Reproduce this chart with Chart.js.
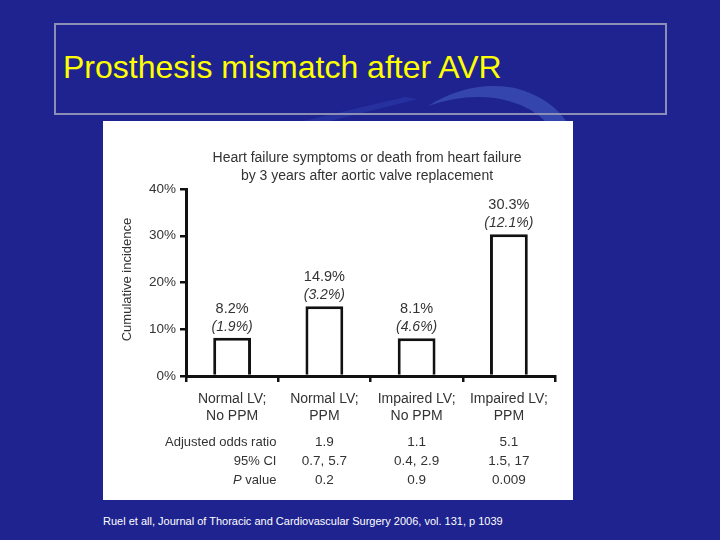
<!DOCTYPE html>
<html>
<head>
<meta charset="utf-8">
<script src="https://cdn.jsdelivr.net/npm/chart.js@4.4.1/dist/chart.umd.min.js"></script>
<style>
  html,body{margin:0;padding:0;}
  body{width:720px;height:540px;background:#1e238f;position:relative;overflow:hidden;font-family:"Liberation Sans",Arial,sans-serif;}
  #deco{position:absolute;left:0;top:0;}
  #titlebox{position:absolute;left:54px;top:23px;width:609px;height:88px;border:2px solid #8b8fb5;}
  #title{position:absolute;left:63px;top:45px;font-size:32px;color:#ffff00;line-height:44px;white-space:nowrap;}
  #panel{position:absolute;left:103px;top:121px;width:470px;height:379px;background:#fff;}
  #cite{position:absolute;left:103px;top:515px;font-size:11px;color:#fff;white-space:nowrap;}
</style>
</head>
<body>
<svg id="deco" width="720" height="540">
  <path d="M 290 124 L 405 97 L 418 99 L 318 124 Z" fill="#2833a3" opacity="0.8"/>
  <path d="M 428 106 Q 470 80 515 88 Q 552 98 568 124 L 548 124 Q 530 104 495 98 Q 462 94 428 106 Z" fill="#3545ae"/>
</svg>
<div id="titlebox"></div>
<div id="title">Prosthesis mismatch after AVR</div>
<div id="panel"><canvas id="c" width="470" height="379"></canvas></div>
<div id="cite">Ruel et all, Journal of Thoracic and Cardiovascular Surgery 2006, vol. 131, p 1039</div>
<script>
const categories = [["Normal LV;","No PPM"],["Normal LV;","PPM"],["Impaired LV;","No PPM"],["Impaired LV;","PPM"]];
const incidence = [8.2, 14.9, 8.1, 30.3];
const incidenceInner = [1.9, 3.2, 4.6, 12.1];
const yTicks = [0, 10, 20, 30, 40];
const titleLines = ["Heart failure symptoms or death from heart failure","by 3 years after aortic valve replacement"];
const yTitle = "Cumulative incidence";
const oddsRatio = ["", "1.9", "1.1", "5.1"];
const ci95 = ["", "0.7, 5.7", "0.4, 2.9", "1.5, 17"];
const pValue = ["", "0.2", "0.9", "0.009"];
const rowLabels = ["Adjusted odds ratio", "95% CI", "P value"];

const FF = '"Liberation Sans", Arial, sans-serif';
const TXT = '#333333';

const annot = {
  id: 'annot',
  afterDraw(chart){
    const {ctx, chartArea:a, scales:{x}} = chart;
    ctx.save();
    ctx.fillStyle = TXT;
    ctx.textAlign = 'center';
    ctx.textBaseline = 'middle';
    ctx.font = '14px ' + FF;
    titleLines.forEach((t,i)=> ctx.fillText(t, a.left + 181, a.top - 31 + i*18));
    ctx.save();
    ctx.translate(a.left - 59, (a.top + a.bottom)/2 - 3);
    ctx.rotate(-Math.PI/2);
    ctx.font = '13px ' + FF;
    ctx.fillText(yTitle, 0, 0);
    ctx.restore();
    const meta = chart.getDatasetMeta(0);
    meta.data.forEach((bar,i)=>{
      ctx.font = '14.5px ' + FF;
      ctx.fillText(incidence[i].toFixed(1) + '%', bar.x, bar.y - 29);
      ctx.font = 'italic 14px ' + FF;
      ctx.fillText('(' + incidenceInner[i].toFixed(1) + '%)', bar.x, bar.y - 11);
    });
    const rows = [oddsRatio, ci95, pValue];
    ctx.font = '13px ' + FF;
    const lx = x.getPixelForValue(0) + x.getPixelForValue(1) - x.getPixelForValue(0) - 48;
    rows.forEach((vals, r)=>{
      const yy = a.bottom + 66 + r*19;
      ctx.textAlign = 'right';
      if (r === 2) {
        const rest = ' value';
        ctx.fillText(rest, lx, yy);
        const w = ctx.measureText(rest).width;
        ctx.font = 'italic 13px ' + FF;
        ctx.fillText('P', lx - w, yy);
        ctx.font = '13px ' + FF;
      } else {
        ctx.fillText(rowLabels[r], lx, yy);
      }
      ctx.textAlign = 'center';
      ctx.font = '13.5px ' + FF;
      vals.forEach((v,i)=>{ if (v) ctx.fillText(v, x.getPixelForValue(i), yy); });
      ctx.font = '13px ' + FF;
    });
    ctx.restore();
  }
};

new Chart(document.getElementById('c'), {
  type: 'bar',
  data: {
    labels: categories,
    datasets: [{
      data: incidence,
      backgroundColor: '#ffffff',
      borderColor: '#111111',
      borderWidth: 3,
      borderSkipped: 'bottom',
      barPercentage: 0.41,
      categoryPercentage: 1.0
    }]
  },
  options: {
    responsive: false,
    animation: false,
    layout: { padding: { left: 0, right: 18, top: 68, bottom: 0 } },
    plugins: { legend: { display: false }, tooltip: { enabled: false }, title: { display: false } },
    scales: {
      x: {
        offset: true,
        grid: { display: true, offset: true, drawOnChartArea: false, drawTicks: true, tickLength: 6, lineWidth: 2.5, color: '#111111' },
        border: { display: true, width: 3, color: '#111111' },
        ticks: { color: TXT, font: { family: FF, size: 14 }, padding: 9, maxRotation: 0, autoSkip: false },
        afterFit(s){ s.height = 124; }
      },
      y: {
        min: 0, max: 40,
        afterBuildTicks(s){ s.ticks = yTicks.map(v=>({value:v})); },
        grid: { display: true, drawOnChartArea: false, drawTicks: true, tickLength: 6, lineWidth: 2.5, color: '#111111' },
        border: { display: true, width: 3, color: '#111111' },
        ticks: { color: TXT, font: { family: FF, size: 13.5 }, padding: 4, callback: v => v + '%' },
        afterFit(s){ s.width = 83; }
      }
    }
  },
  plugins: [annot]
});
</script>
</body>
</html>
